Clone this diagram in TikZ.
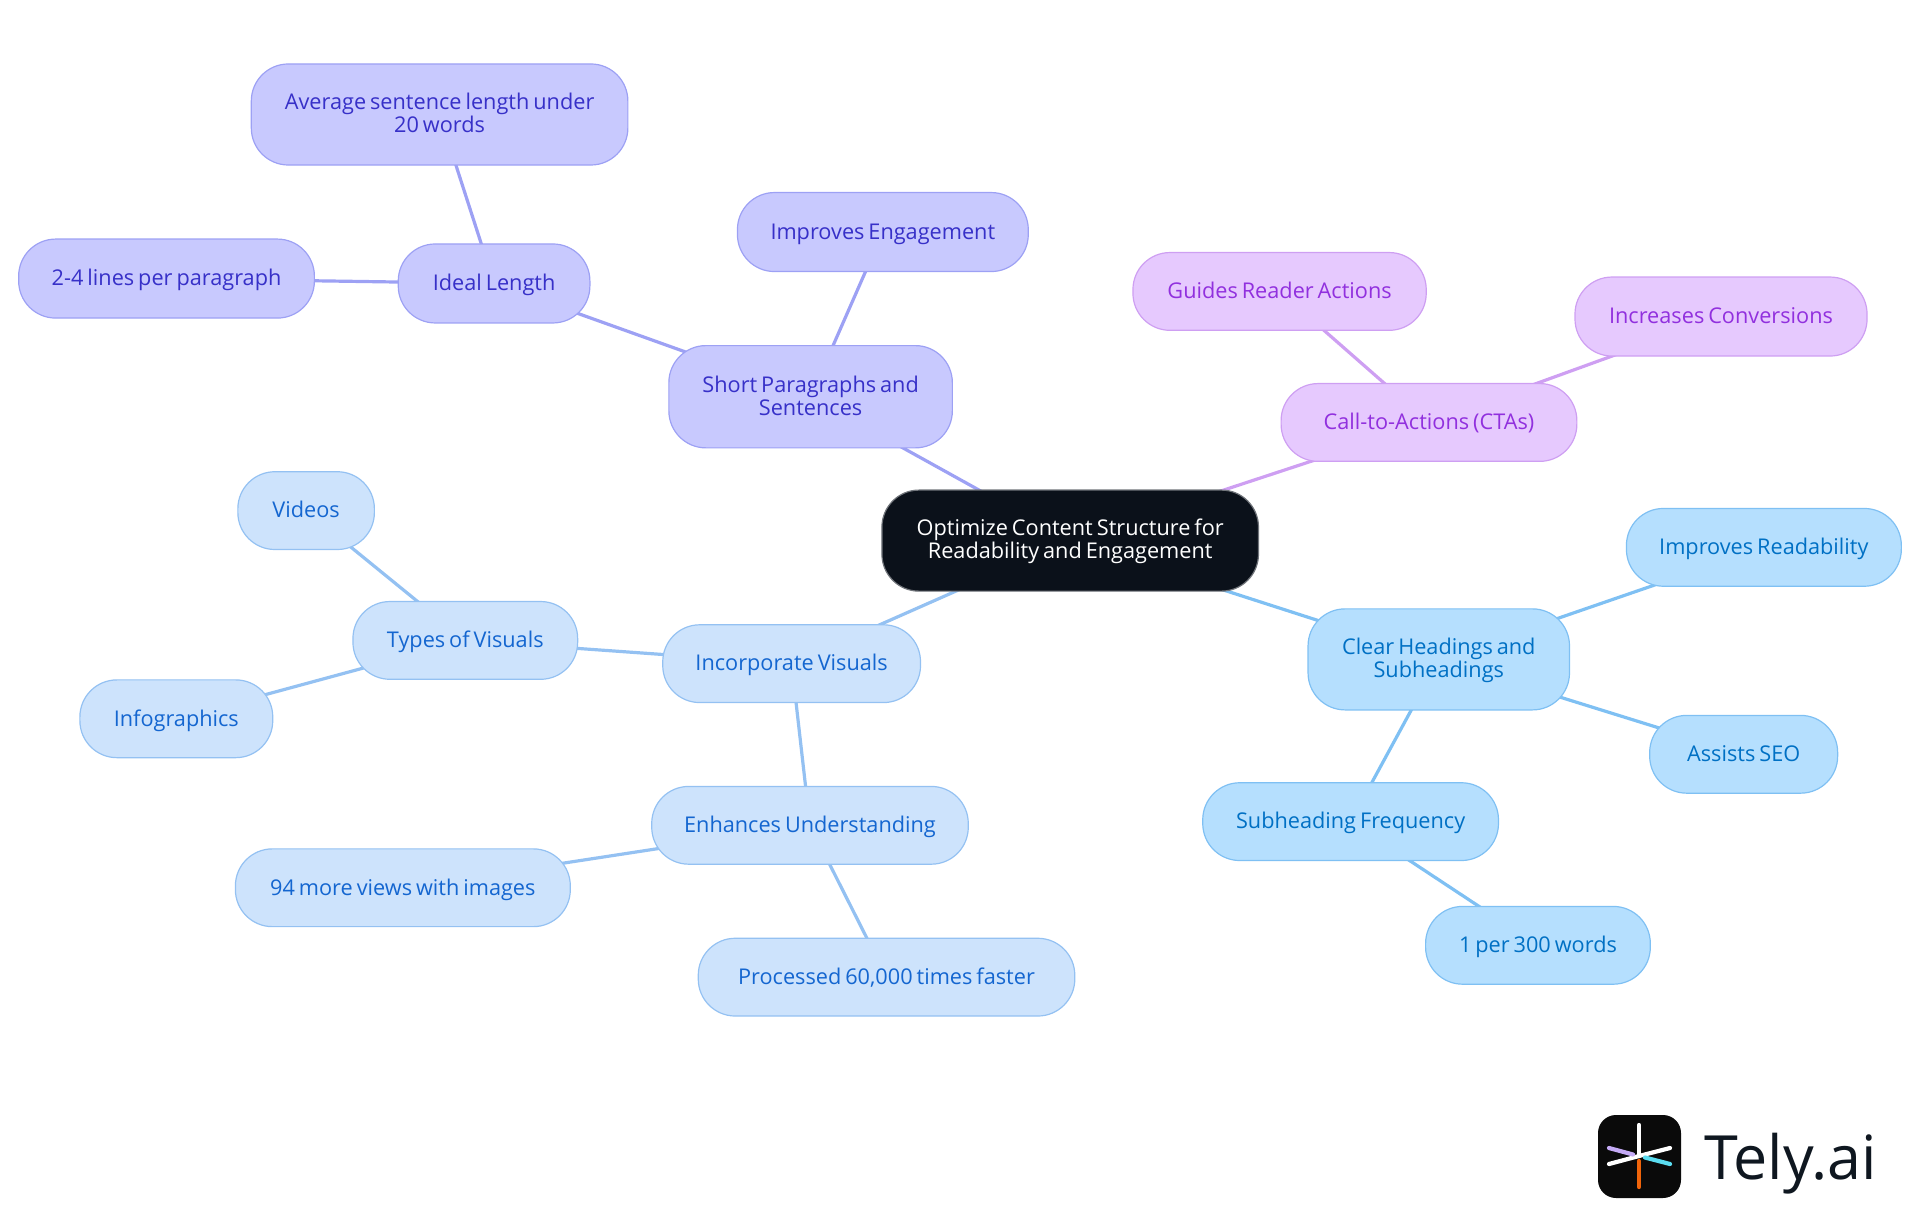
\documentclass[tikz,border=0pt]{standalone}
\usepackage{fontspec}
\setmainfont{Open Sans}[WordSpace=0.7]
\usetikzlibrary{backgrounds}
\definecolor{vf}{HTML}{C8C9FE}\definecolor{vs}{HTML}{9DA1F4}\definecolor{vt}{HTML}{3730C8}
\definecolor{pf}{HTML}{E6C9FE}\definecolor{ps}{HTML}{CE9FF2}\definecolor{pt}{HTML}{9130DE}
\definecolor{sf}{HTML}{B5DFFE}\definecolor{ss}{HTML}{7FC0F3}\definecolor{st}{HTML}{0070C4}
\definecolor{bf}{HTML}{CDE3FC}\definecolor{bs}{HTML}{94C1F2}\definecolor{bt}{HTML}{1466D0}
\definecolor{rootf}{HTML}{0B111A}\definecolor{roots}{HTML}{70747A}
\definecolor{logobg}{HTML}{0A0A0A}\definecolor{logop}{HTML}{C4AAF5}\definecolor{logoc}{HTML}{5ADCF0}\definecolor{logoo}{HTML}{F0640A}
\definecolor{logot}{HTML}{0F1720}
\tikzset{
 mm/.style={rounded corners=37pt,line width=1.2pt,inner sep=0pt,align=center,
   text height=18.2pt,text depth=3.7pt,
   font=\fontsize{21.7}{23}\selectfont},
 two/.style={text height=37pt,text depth=0.4pt},
 rootbox/.style={mm,fill=rootf,draw=roots,text=white},
 vbox/.style={mm,fill=vf,draw=vs,text=vt},
 pbox/.style={mm,fill=pf,draw=ps,text=pt},
 sbox/.style={mm,fill=sf,draw=ss,text=st},
 bbox/.style={mm,fill=bf,draw=bs,text=bt},
 ve/.style={draw=vs,line width=3.2pt},
 pe/.style={draw=ps,line width=3.2pt},
 se/.style={draw=ss,line width=3.2pt},
 be/.style={draw=bs,line width=3.2pt},
 spoke/.style={line width=4.2pt,line cap=round},
}
\newcommand{\mn}[7]{%
 \pgfmathsetmacro{\cxx}{(#2+#4)/2*1.22449}%
 \pgfmathsetmacro{\cyy}{-(#3+#5)/2*1.22449}%
 \pgfmathsetmacro{\ww}{(#4-#2)*1.22449-0.6}%
 \pgfmathsetmacro{\hh}{(#5-#3)*1.22449-0.6}%
 \node[#6,minimum width=\ww pt,minimum height=\hh pt] (#1) at (\cxx pt,\cyy pt) {#7};}
\begin{document}
\begin{tikzpicture}[x=1pt,y=1pt]
\useasboundingbox (0,0) rectangle (1920,-1215);
\mn{root}{720}{400}{1028}{483}{rootbox,two}{Optimize Content Structure for\\Readability and Engagement}
\mn{short}{546}{282}{778}{366}{vbox,two}{Short Paragraphs and\\Sentences}
\mn{ideal}{325}{199}{482}{264}{vbox}{Ideal Length}
\mn{avg}{205}{52}{513}{135}{vbox,two}{Average sentence length under\\20 words}
\mn{lines}{15}{195}{257}{260}{vbox}{2-4 lines per paragraph}
\mn{impeng}{602}{157}{840}{222}{vbox}{Improves Engagement}
\mn{cta}{1046}{313}{1288}{377}{pbox}{Call-to-Actions (CTAs)}
\mn{guides}{925}{206}{1165}{270}{pbox}{Guides Reader Actions}
\mn{incr}{1286}{226}{1525}{291}{pbox}{Increases Conversions}
\mn{clear}{1068}{497}{1282}{580}{sbox,two}{Clear Headings and\\Subheadings}
\mn{impread}{1328}{415}{1553}{479}{sbox}{Improves Readability}
\mn{seo}{1347}{584}{1501}{648}{sbox}{Assists SEO}
\mn{freq}{982}{639}{1224}{703}{sbox}{Subheading Frequency}
\mn{per}{1164}{740}{1348}{804}{sbox}{1 per 300 words}
\mn{vis}{541}{510}{752}{574}{bbox}{Incorporate Visuals}
\mn{types}{288}{491}{472}{555}{bbox}{Types of Visuals}
\mn{videos}{194}{385}{306}{449}{bbox}{Videos}
\mn{info}{65}{555}{223}{619}{bbox}{Infographics}
\mn{enh}{532}{642}{791}{706}{bbox}{Enhances Understanding}
\mn{nf}{192}{693}{466}{757}{bbox}{94 more views with images}
\mn{proc}{570}{766}{878}{830}{bbox}{Processed 60,000 times faster}
\begin{scope}[on background layer]
\draw[ve] (root.center)--(short.center);
\draw[ve] (short.center)--(ideal.center);
\draw[ve] (short.center)--(impeng.center);
\draw[ve] (ideal.center)--(avg.center);
\draw[ve] (ideal.center)--(lines.center);
\draw[pe] (root.center)--(cta.center);
\draw[pe] (cta.center)--(guides.center);
\draw[pe] (cta.center)--(incr.center);
\draw[se] (root.center)--(clear.center);
\draw[se] (clear.center)--(impread.center);
\draw[se] (clear.center)--(seo.center);
\draw[se] (clear.center)--(freq.center);
\draw[se] (freq.center)--(per.center);
\draw[be] (root.center)--(vis.center);
\draw[be] (vis.center)--(types.center);
\draw[be] (vis.center)--(enh.center);
\draw[be] (types.center)--(videos.center);
\draw[be] (types.center)--(info.center);
\draw[be] (enh.center)--(nf.center);
\draw[be] (enh.center)--(proc.center);
\end{scope}
% logo
\fill[logobg,rounded corners=18pt] (1598,-1115) rectangle (1681,-1198);
\draw[spoke,white] (1639,-1156)--(1639,-1125);
\draw[spoke,white] (1639,-1156)--(1609,-1164);
\draw[spoke,white] (1639,-1156)--(1670,-1148);
\draw[spoke,logop] (1633,-1154.5)--(1609,-1148);
\draw[spoke,logoc] (1645,-1157.5)--(1670,-1164);
\draw[spoke,logoo] (1639,-1161)--(1639,-1187);
\node[anchor=base west,inner sep=0pt,text=logot,font=\fontsize{61}{61}\selectfont] (brand) at (1704,-1179) {Tely.ai};
\end{tikzpicture}
\end{document}
